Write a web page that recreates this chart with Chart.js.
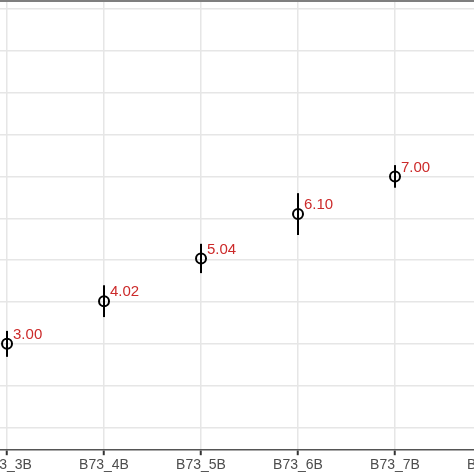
<!DOCTYPE html>
<html>
<head>
<meta charset="utf-8">
<script src="https://cdn.jsdelivr.net/npm/chart.js@4"></script>
<style>
  html, body { margin: 0; padding: 0; background: #fff; }
  #wrap { position: relative; width: 474px; height: 474px; overflow: hidden; }
  #theChart { position: absolute; left: -60px; top: 0; }
</style>
</head>
<body>
<div id="wrap">
  <canvas id="theChart" width="620" height="476"></canvas>
</div>
<script>
// categories along x (last one is cut off at the right edge)
var categories = ['B73_3B', 'B73_4B', 'B73_5B', 'B73_6B', 'B73_7B', 'B73_8B'];
var means = [3.00, 4.02, 5.04, 6.10, 7.00];
var lower = [2.69, 3.64, 4.69, 5.60, 6.73];
var upper = [3.31, 4.40, 5.39, 6.60, 7.27];
var valueLabels = ['3.00', '4.02', '5.04', '6.10', '7.00'];
var yGrid = [1, 2, 3, 4, 5, 6, 7, 8, 9, 10, 11];

var ctx = document.getElementById('theChart');

// error bars + red value labels
var extras = {
    id: 'extras',
    beforeDatasetsDraw: function (chart) {
        var c = chart.ctx;
        var xs = chart.scales.x;
        var ys = chart.scales.y;
        c.save();
        c.strokeStyle = '#000';
        c.lineWidth = 2;
        for (let i = 0; i < means.length; i++) {
            var px = xs.getPixelForValue(i);
            c.beginPath();
            c.moveTo(px, ys.getPixelForValue(lower[i]));
            c.lineTo(px, ys.getPixelForValue(upper[i]));
            c.stroke();
        }
        c.restore();
    },
    afterDatasetsDraw: function (chart) {
        var c = chart.ctx;
        var xs = chart.scales.x;
        var ys = chart.scales.y;
        c.save();
        c.fillStyle = '#cc2a2a';
        c.font = '15px "Liberation Sans", Arial, sans-serif';
        c.textAlign = 'left';
        c.textBaseline = 'middle';
        for (let i = 0; i < means.length; i++) {
            c.fillText(valueLabels[i], xs.getPixelForValue(i) + 6, ys.getPixelForValue(means[i]) - 9);
        }
        c.restore();
    }
};

new Chart(ctx, {
    type: 'scatter',
    data: {
        datasets: [{
            data: means.map(function (v, i) { return { x: i, y: v }; }),
            pointStyle: 'circle',
            radius: 5,
            borderWidth: 2,
            borderColor: '#000',
            backgroundColor: 'rgba(255,255,255,0)'
        }]
    },
    options: {
        responsive: false,
        animation: false,
        layout: { autoPadding: false, padding: { top: 1, left: 0, right: 0, bottom: 0 } },
        plugins: { legend: { display: false }, tooltip: { enabled: false } },
        scales: {
            x: {
                type: 'linear',
                position: 'bottom',
                min: -0.691,
                max: 5.701,
                afterBuildTicks: function (axis) {
                    axis.ticks = categories.map(function (c, i) { return { value: i }; });
                },
                ticks: {
                    callback: function (v) { return categories[v]; },
                    color: '#4d4d4d',
                    font: { family: '"Liberation Sans", Arial, sans-serif', size: 14, lineHeight: 1.2 },
                    padding: 2,
                    maxRotation: 0,
                    autoSkip: false
                },
                grid: {
                    color: '#e6e6e6',
                    lineWidth: 1.5,
                    tickColor: '#333',
                    tickWidth: 2,
                    tickLength: 5
                },
                border: { color: '#555', width: 1.5 }
            },
            xTop: {
                type: 'linear',
                position: 'top',
                grid: { display: false, drawTicks: false },
                ticks: { display: false },
                border: { display: true, color: '#7f7f7f', width: 2 }
            },
            y: {
                min: 0.46,
                max: 11.19,
                afterBuildTicks: function (axis) {
                    axis.ticks = yGrid.map(function (v) { return { value: v }; });
                },
                ticks: { display: false },
                grid: { color: '#e6e6e6', lineWidth: 1.5, drawTicks: false },
                border: { display: false }
            }
        }
    },
    plugins: [extras]
});
</script>
</body>
</html>
